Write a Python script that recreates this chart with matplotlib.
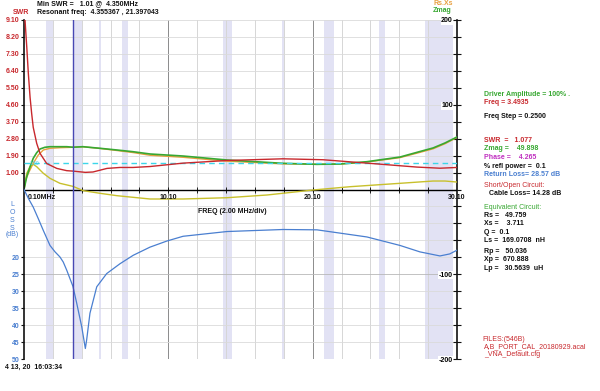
import matplotlib
matplotlib.use("Agg")
import matplotlib.pyplot as plt
import numpy as np

plt.rcParams['font.family'] = ['Liberation Sans', 'DejaVu Sans']

# ---- data ----
swr_f = [0.10, 0.17, 0.29, 0.40, 0.52, 0.63, 0.74, 0.98, 1.21, 1.67, 2.37, 3.06, 3.49,
         4.35, 4.88, 5.85, 6.75, 7.65, 8.83, 11.12, 14.16, 18.04, 20.82, 23.86, 27.33,
         28.92, 30.10]
swr_v = [10.5, 9.10, 7.68, 6.27, 5.00, 4.14, 3.40, 2.55, 2.02, 1.48, 1.22, 1.10, 1.077,
         1.01, 1.03, 1.22, 1.27, 1.27, 1.32, 1.50, 1.64, 1.73, 1.68, 1.50, 1.29,
         1.23, 1.27]

z_f = [0.10, 0.29, 0.52, 0.74, 0.98, 1.21, 1.55, 1.90, 3.06, 3.49, 4.19, 5.37, 6.54,
       7.65, 8.83, 11.12, 14.16, 18.04, 20.40, 21.99, 23.86, 26.15, 27.53, 28.44,
       29.27, 30.10]
zmag = [0.0, 15.1, 26.9, 36.8, 43.4, 47.8, 49.8, 50.5, 50.5, 49.9, 50.5, 48.6, 46.6,
        44.6, 41.9, 39.5, 34.8, 30.9, 29.7, 30.1, 32.8, 38.3, 44.8, 49.0, 54.9, 62.0]

rs_f = [0.10, 0.17, 0.40, 0.74, 1.09, 1.44, 1.90, 2.59, 3.49, 4.19, 5.37, 6.54, 7.65,
        8.83, 11.12, 14.16, 18.04, 20.40, 21.99, 23.86, 26.15, 27.53, 28.44, 29.27, 30.10]
rs = [0.0, 9.2, 19.1, 30.9, 40.7, 46.6, 48.6, 49.3, 49.8, 50.4, 48.4, 46.0, 43.6,
      40.4, 38.0, 33.4, 30.2, 29.7, 29.9, 32.4, 37.6, 43.8, 48.0, 54.0, 61.4]

xs_f = [0.10, 0.29, 0.52, 0.74, 0.98, 1.44, 1.90, 2.59, 3.49, 4.21, 5.37, 6.54, 7.65,
        8.83, 11.12, 14.16, 16.93, 20.12, 22.69, 26.15, 28.44, 29.27, 30.10]
xs = [0.0, 19.1, 26.9, 29.7, 26.9, 19.1, 13.2, 7.3, 3.7, -1.4, -4.5, -7.3, -9.2,
      -11.2, -11.2, -9.7, -6.5, -0.6, 3.3, 7.3, 10.0, 10.0, 8.8]

rl_f = [0.10, 0.40, 0.74, 1.09, 1.44, 1.90, 2.25, 2.59, 2.82, 3.06, 3.49, 3.75, 4.10,
        4.35, 4.44, 4.67, 5.14, 5.83, 6.75, 7.67, 8.83, 10.0, 11.12, 14.16, 18.04,
        20.40, 23.86, 26.15, 27.53, 28.92, 29.60, 30.10]
rl = [0.0, 2.6, 5.2, 8.6, 12.1, 16.5, 18.4, 19.9, 21.4, 23.8, 28.57, 33.5, 40.5,
      46.9, 44.4, 36.5, 28.7, 24.8, 21.9, 19.4, 17.0, 15.2, 13.8, 12.4, 11.8,
      11.9, 14.0, 16.5, 18.4, 19.6, 19.0, 17.9]

bands = [(1.6, 2.1), (3.5, 4.1), (5.3, 5.45), (6.9, 7.3), (10.1, 10.15), (13.9, 14.5),
         (18.0, 18.2), (20.9, 21.55), (24.7, 25.1), (27.9, 29.8)]

marker_freq = 3.4935
swr_ref = 1.50
swr_ticks = [1.00, 1.90, 2.80, 3.70, 4.60, 5.50, 6.40, 7.30, 8.20, 9.10]
loss_ticks = [20, 25, 30, 35, 40, 45, 50]
z_ticks = list(range(-200, 201, 20))
z_labels = {200: '200', 100: '100', -100: '-100', -200: '-200'}
freq_grid = [0.1 + 2 * k for k in range(16)]
freq_labels = [(10.1, '10.10'), (20.1, '20.10'), (30.1, '30.10')]

RED = '#c8282d'
GREEN = '#38a832'
ORANGE = '#e8a040'
YELLOW = '#c8c02c'
BLUE = '#4a7fd0'
MAG = '#c030c0'
BLK = '#111111'

panel = [
    ("Driver Amplitude = 100% .", GREEN, 484, 95, 'bold'),
    ("Freq = 3.4935", RED, 484, 103, 'bold'),
    ("Freq Step = 0.2500", BLK, 484, 117, 'bold'),
    ("SWR  =   1.077", RED, 484, 141, 'bold'),
    ("Zmag =    49.898", GREEN, 484, 149, 'bold'),
    ("Phase =    4.265", MAG, 484, 157.5, 'bold'),
    ("% refl power =  0.1", BLK, 484, 166, 'bold'),
    ("Return Loss= 28.57 dB", BLUE, 484, 174, 'bold'),
    ("Short/Open Circuit:", RED, 484, 185.5, 'normal'),
    ("Cable Loss= 14.28 dB", BLK, 489, 193.5, 'bold'),
    ("Equivalent Circuit:", GREEN, 484, 207.5, 'normal'),
    ("Rs =   49.759", BLK, 484, 215.5, 'bold'),
    ("Xs =    3.711", BLK, 484, 223.5, 'bold'),
    ("Q =  0.1", BLK, 484, 232, 'bold'),
    ("Ls =  169.0708  nH", BLK, 484, 240.5, 'bold'),
    ("Rp =   50.036", BLK, 484, 251.5, 'bold'),
    ("Xp =  670.888", BLK, 484, 259.5, 'bold'),
    ("Lp =   30.5639  uH", BLK, 484, 268, 'bold'),
    ("FILES:(546B)", RED, 482, 339.5, 'normal'),
    ("A,B_PORT_CAL_20180929.acal", RED, 484, 347, 'normal'),
    ("_VNA_Default.cfg", RED, 484, 355, 'normal'),
]

W, H = 600, 391
fig = plt.figure(figsize=(6, 3.91), dpi=100)
fig.patch.set_facecolor('white')


def ftext(x, y, s, **kw):
    kw.setdefault('fontsize', 5)
    kw.setdefault('va', 'center')
    fig.text(x / W, 1 - y / H, s, **kw)


ax = fig.add_axes([24 / W, 32 / H, 433 / W, 339 / H])
ax_swr = ax.twinx()
ax_rl = ax.twinx()

ax.set_xlim(0.1, 30.1)
ax.set_ylim(-200, 200)
ax.set_facecolor('white')

# ham bands + grid
for a, b in bands:
    ax.axvspan(a, b, color='#e2e2f4', lw=0, zorder=0)
for f in freq_grid[1:-1]:
    c = '#8c8c8c' if abs((f - 0.1) % 10) < 1e-6 else '#d6d6d6'
    ax.axvline(f, color=c, lw=0.7, zorder=0.5)
for z in z_ticks:
    c = '#b8b8b8' if z == -100 else '#dadada'
    ax.axhline(z, color=c, lw=0.6, zorder=0.5)

# freq axis
ax.axhline(0, color='black', lw=1.0, zorder=3)
ax.plot(freq_grid[1:-1], [0] * (len(freq_grid) - 2), ls='none', marker='|',
        ms=4, mew=0.6, color='black', zorder=3)

# Z scale curves (right axis)
ax.plot(rs_f, rs, color=ORANGE, lw=1.0, zorder=4)
ax.plot(xs_f, xs, color=YELLOW, lw=1.0, zorder=4)
ax.plot(z_f, zmag, color=GREEN, lw=1.2, zorder=4.5)

ax.set_xticks([])
for s in ['top', 'bottom', 'left']:
    ax.spines[s].set_visible(False)
ax.spines['right'].set_color(BLK)
ax.spines['right'].set_linewidth(1.2)

# SWR (top half, left axis)
ax_swr.set_ylim(-8.9, 9.1)
ax_swr.yaxis.tick_left()
ax_swr.set_yticks(swr_ticks)
ax_swr.set_yticklabels(['%.2f' % v for v in swr_ticks])
ax_swr.tick_params(axis='y', direction='out', length=2.5, width=0.8, colors=BLK,
                   labelcolor=RED, labelsize=5, pad=1)
for lbl in ax_swr.get_yticklabels():
    lbl.set_fontweight('bold')
ax_swr.axhline(swr_ref, color='#3cd6ea', lw=1.0, ls=(0, (4, 3)), zorder=3)
ax_swr.plot(swr_f, swr_v, color=RED, lw=1.0, zorder=4)
ax_swr.text(0.5, swr_ref, '1.50', color='#3cc8e0', fontsize=3.5, va='center')
for s in ['top', 'bottom', 'right']:
    ax_swr.spines[s].set_visible(False)
ax_swr.spines['left'].set_color(BLK)
ax_swr.spines['left'].set_linewidth(1.2)

# Return loss (bottom half, left axis)
ax_rl.set_ylim(50, -50)
ax_rl.yaxis.tick_left()
ax_rl.set_yticks(loss_ticks)
ax_rl.set_yticklabels([str(v) for v in loss_ticks])
ax_rl.tick_params(axis='y', direction='out', length=2.5, width=0.8, colors=BLK,
                  labelcolor=BLUE, labelsize=5, pad=1)
for lbl in ax_rl.get_yticklabels():
    lbl.set_fontweight('bold')
ax_rl.plot(rl_f, rl, color=BLUE, lw=0.9, zorder=4)
ax_rl.axvline(marker_freq, color='#4848b4', lw=1.0, zorder=5)
for s in ['top', 'bottom', 'right', 'left']:
    ax_rl.spines[s].set_visible(False)

# right Z axis: ticks crossing the spine, labels just inside
ax.yaxis.tick_right()
ax.set_yticks(z_ticks)
ax.set_yticklabels([z_labels.get(z, '') for z in z_ticks])
ax.tick_params(axis='y', which='both', left=False, right=True, labelleft=False,
               labelright=True, direction='inout', length=6, width=0.8, color=BLK,
               labelsize=5, pad=-6)
for lbl in ax.get_yticklabels():
    lbl.set_ha('right')
    lbl.set_fontweight('bold')
    lbl.set_bbox(dict(facecolor='white', edgecolor='none', pad=0.4))

# freq labels
ax.text(0.35, -9, '0.10MHz', fontsize=5, fontweight='bold', va='center', color=BLK)
for f, s in freq_labels:
    ax.text(f, -9.5, s, fontsize=5, fontweight='bold', ha='center', va='center',
            color=BLK, zorder=6)
ax.text(12.15, -25.5, 'FREQ (2.00 MHz/div)', fontsize=5, fontweight='bold',
        va='center', color=BLK)

# header / side labels
ftext(37, 4, 'Min SWR =   1.01 @  4.350MHz', fontweight='bold', color=BLK)
ftext(37, 12.5, 'Resonant freq:  4.355367 , 21.397043', fontweight='bold', color=BLK)
ftext(13, 12.5, 'SWR', color=RED, fontweight='bold')
ftext(433, 3.5, 'Rs.Xs', color=ORANGE, fontweight='bold')
ftext(433, 11, 'Zmag', color=GREEN, fontweight='bold')
for ch, yy in zip(['L', 'O', 'S', 'S', '(dB)'], [204, 212, 220, 228, 235]):
    ftext(12.5, yy, ch, color=BLUE, ha='center')
ftext(5, 367, '4 13, 20  16:03:34', fontweight='bold', color=BLK)

for s, c, x, y, w in panel:
    ftext(x, y, s, color=c, fontweight=w)

fig.savefig('out.png', dpi=100, facecolor='white')
